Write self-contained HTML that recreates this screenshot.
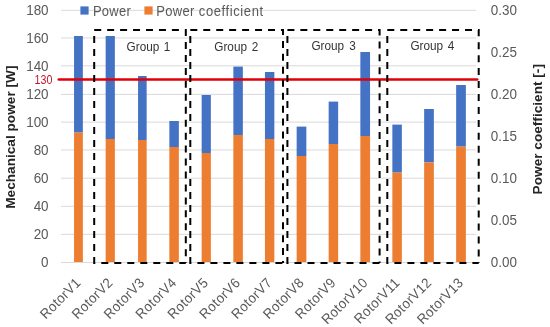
<!DOCTYPE html>
<html><head><meta charset="utf-8"><title>Chart</title>
<style>
html,body{margin:0;padding:0;background:#fff;}
svg{display:block;font-family:"Liberation Sans",sans-serif;}
</style></head><body>
<svg width="550" height="327" viewBox="0 0 550 327">
<rect width="550" height="327" fill="#fff"/>
<g stroke="#D9D9D9" stroke-width="1">
<line x1="61.0" y1="262.50" x2="476.0" y2="262.50"/>
<line x1="61.0" y1="234.35" x2="476.0" y2="234.35"/>
<line x1="61.0" y1="206.30" x2="476.0" y2="206.30"/>
<line x1="61.0" y1="178.20" x2="476.0" y2="178.20"/>
<line x1="61.0" y1="149.95" x2="476.0" y2="149.95"/>
<line x1="61.0" y1="122.10" x2="476.0" y2="122.10"/>
<line x1="61.0" y1="94.35" x2="476.0" y2="94.35"/>
<line x1="61.0" y1="65.80" x2="476.0" y2="65.80"/>
<line x1="61.0" y1="37.95" x2="476.0" y2="37.95"/>
<line x1="61.0" y1="10.30" x2="476.0" y2="10.30"/>
</g>
<g>
<rect x="74.05" y="36.0" width="8.80" height="96.6" fill="#4472C4"/>
<rect x="74.05" y="132.6" width="8.80" height="129.4" fill="#ED7D31"/>
<rect x="105.65" y="36.0" width="9.20" height="103.0" fill="#4472C4"/>
<rect x="105.65" y="139.0" width="9.20" height="123.0" fill="#ED7D31"/>
<rect x="138.05" y="76.0" width="8.60" height="64.0" fill="#4472C4"/>
<rect x="138.05" y="140.0" width="8.60" height="122.0" fill="#ED7D31"/>
<rect x="169.35" y="121.0" width="9.50" height="26.0" fill="#4472C4"/>
<rect x="169.35" y="147.0" width="9.50" height="115.0" fill="#ED7D31"/>
<rect x="201.65" y="95.0" width="9.20" height="58.0" fill="#4472C4"/>
<rect x="201.65" y="153.0" width="9.20" height="109.0" fill="#ED7D31"/>
<rect x="233.35" y="66.6" width="9.50" height="68.4" fill="#4472C4"/>
<rect x="233.35" y="135.0" width="9.50" height="127.0" fill="#ED7D31"/>
<rect x="264.95" y="72.0" width="9.40" height="67.0" fill="#4472C4"/>
<rect x="264.95" y="139.0" width="9.40" height="123.0" fill="#ED7D31"/>
<rect x="296.65" y="126.6" width="9.70" height="29.4" fill="#4472C4"/>
<rect x="296.65" y="156.0" width="9.70" height="106.0" fill="#ED7D31"/>
<rect x="328.65" y="101.6" width="9.50" height="42.4" fill="#4472C4"/>
<rect x="328.65" y="144.0" width="9.50" height="118.0" fill="#ED7D31"/>
<rect x="360.35" y="52.0" width="9.70" height="84.0" fill="#4472C4"/>
<rect x="360.35" y="136.0" width="9.70" height="126.0" fill="#ED7D31"/>
<rect x="392.35" y="124.6" width="9.50" height="48.0" fill="#4472C4"/>
<rect x="392.35" y="172.6" width="9.50" height="89.4" fill="#ED7D31"/>
<rect x="424.15" y="109.0" width="9.70" height="53.4" fill="#4472C4"/>
<rect x="424.15" y="162.4" width="9.70" height="99.6" fill="#ED7D31"/>
<rect x="456.15" y="85.0" width="9.70" height="61.6" fill="#4472C4"/>
<rect x="456.15" y="146.6" width="9.70" height="115.4" fill="#ED7D31"/>
</g>
<line x1="58.8" y1="79.5" x2="477.2" y2="79.5" stroke="#E00006" stroke-width="2.6" stroke-linecap="round"/>
<g fill="none" stroke="#000" stroke-width="2" stroke-dasharray="7 6">
<path d="M94.2 30 H185.8 V263" stroke-dasharray="7 5.95"/><path d="M94.2 30 V263 H185.8" stroke-dashoffset="6.9"/>
<path d="M190.3 30 H283 V263" stroke-dasharray="7 5.95"/><path d="M190.3 30 V263 H283" stroke-dashoffset="6.9"/>
<path d="M287.4 30 H379.6 V263" stroke-dasharray="7 5.95"/><path d="M287.4 30 V263 H379.6" stroke-dashoffset="6.9"/>
<path d="M387.3 30 H478.7 V263" stroke-dasharray="7 5.95"/><path d="M387.3 30 V263 H478.7" stroke-dashoffset="6.9"/>
</g>
<g font-size="12.4" fill="#333">
<text transform="translate(126.6,51.3) scale(0.95,1)">Group <tspan dx="1.15">1</tspan></text>
<text transform="translate(214.3,51.3) scale(0.95,1)">Group <tspan dx="1.46">2</tspan></text>
<text transform="translate(311.4,50.2) scale(0.95,1)">Group <tspan dx="1.88">3</tspan></text>
<text transform="translate(410.4,50.1) scale(0.95,1)">Group <tspan dx="1.41">4</tspan></text>
</g>
<g font-size="14.1" fill="#595959">
<text transform="translate(48.6,267.0) scale(0.955,1)" text-anchor="end">0</text>
<text transform="translate(48.6,239.0) scale(0.955,1)" text-anchor="end">20</text>
<text transform="translate(48.6,210.9) scale(0.955,1)" text-anchor="end">40</text>
<text transform="translate(48.6,182.9) scale(0.955,1)" text-anchor="end">60</text>
<text transform="translate(48.6,154.9) scale(0.955,1)" text-anchor="end">80</text>
<text transform="translate(48.6,126.8) scale(0.955,1)" text-anchor="end">100</text>
<text transform="translate(48.6,98.8) scale(0.955,1)" text-anchor="end">120</text>
<text transform="translate(48.6,70.8) scale(0.955,1)" text-anchor="end">140</text>
<text transform="translate(48.6,42.8) scale(0.955,1)" text-anchor="end">160</text>
<text transform="translate(48.6,14.7) scale(0.955,1)" text-anchor="end">180</text>
<text transform="translate(490.8,267.0) scale(0.955,1)">0.00</text>
<text transform="translate(490.8,225.0) scale(0.955,1)">0.05</text>
<text transform="translate(490.8,182.9) scale(0.955,1)">0.10</text>
<text transform="translate(490.8,140.9) scale(0.955,1)">0.15</text>
<text transform="translate(490.8,98.8) scale(0.955,1)">0.20</text>
<text transform="translate(490.8,56.8) scale(0.955,1)">0.25</text>
<text transform="translate(490.8,14.7) scale(0.955,1)">0.30</text>
</g>
<g font-size="14" fill="#595959">
<text transform="translate(81.8,283.6) rotate(-45) scale(0.94,1)" text-anchor="end" letter-spacing="0.42">RotorV1</text>
<text transform="translate(113.6,283.6) rotate(-45) scale(0.94,1)" text-anchor="end" letter-spacing="0.42">RotorV2</text>
<text transform="translate(145.5,283.6) rotate(-45) scale(0.94,1)" text-anchor="end" letter-spacing="0.42">RotorV3</text>
<text transform="translate(177.4,283.6) rotate(-45) scale(0.94,1)" text-anchor="end" letter-spacing="0.42">RotorV4</text>
<text transform="translate(209.3,283.6) rotate(-45) scale(0.94,1)" text-anchor="end" letter-spacing="0.42">RotorV5</text>
<text transform="translate(241.2,283.6) rotate(-45) scale(0.94,1)" text-anchor="end" letter-spacing="0.42">RotorV6</text>
<text transform="translate(273.0,283.6) rotate(-45) scale(0.94,1)" text-anchor="end" letter-spacing="0.42">RotorV7</text>
<text transform="translate(304.9,283.6) rotate(-45) scale(0.94,1)" text-anchor="end" letter-spacing="0.42">RotorV8</text>
<text transform="translate(336.8,283.6) rotate(-45) scale(0.94,1)" text-anchor="end" letter-spacing="0.42">RotorV9</text>
<text transform="translate(368.7,283.6) rotate(-45) scale(0.94,1)" text-anchor="end" letter-spacing="0.42">RotorV10</text>
<text transform="translate(400.6,283.6) rotate(-45) scale(0.94,1)" text-anchor="end" letter-spacing="0.42">RotorV11</text>
<text transform="translate(432.4,283.6) rotate(-45) scale(0.94,1)" text-anchor="end" letter-spacing="0.42">RotorV12</text>
<text transform="translate(464.3,283.6) rotate(-45) scale(0.94,1)" text-anchor="end" letter-spacing="0.42">RotorV13</text>
</g>
<text x="34.6" y="83.5" font-size="12.6" fill="#C4122A" textLength="17.8" lengthAdjust="spacingAndGlyphs">130</text>
<rect x="80.4" y="6.4" width="8.2" height="8.2" fill="#4472C4"/>
<rect x="144.4" y="6.4" width="8.2" height="8.2" fill="#ED7D31"/>
<g font-size="14.1" fill="#595959">
<text transform="translate(92.9,15.5) scale(0.922,1)" letter-spacing="0.3">Power</text>
<text transform="translate(156.3,15.5) scale(0.922,1)" letter-spacing="0.3">Power <tspan x="46.1" letter-spacing="0.66">coefficient</tspan></text>
</g>
<g font-size="13.65" font-weight="bold" fill="#262626">
<text transform="translate(15,208.8) rotate(-90)">Mechanical power [W]</text>
<text transform="translate(541.5,194.4) rotate(-90)">Power coefficient [-]</text>
</g>
</svg>
</body></html>
